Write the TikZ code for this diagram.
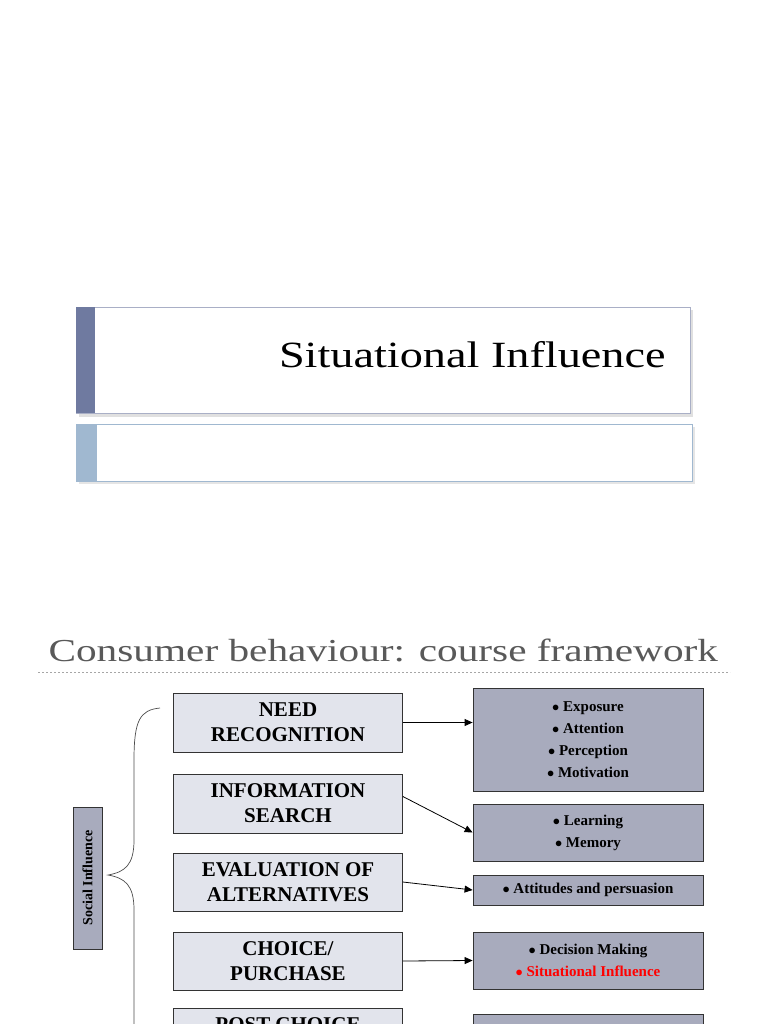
\documentclass[tikz,border=0pt]{standalone}
\usepackage{fontspec}
\setmainfont{Liberation Serif}
\usetikzlibrary{arrows.meta,decorations.pathreplacing}
\definecolor{lbox}{HTML}{E2E4EC}
\definecolor{rbox}{HTML}{A8ABBD}
\definecolor{bar1}{HTML}{6F7AA0}
\definecolor{bar2}{HTML}{A0B8D0}
\tikzset{
 lb/.style={draw=black!80,fill=lbox,line width=0.8pt,minimum width=229pt,align=center,font=\bfseries\fontsize{21}{25}\selectfont,inner sep=0pt},
 rb/.style={draw=black!80,fill=rbox,line width=0.8pt,minimum width=230pt,align=center,font=\bfseries\fontsize{15}{22}\selectfont,inner sep=0pt},
 arr/.style={-{Triangle[length=8pt,width=7pt]},line width=0.8pt,black}
}
\begin{document}
\begin{tikzpicture}[x=1pt,y=-1pt]
\useasboundingbox (0,0) rectangle (768,1024);
\clip (0,0) rectangle (768,1024);
% title slide
\fill[black!12] (79,310) rectangle (693,417);
\draw[draw=bar1!60,fill=white] (76,307) rectangle (690,413);
\fill[bar1] (76,307) rectangle (95,413);
\node[anchor=east,font=\fontsize{37}{40}\selectfont,xscale=1.25] (title) at (670,355) {Situational Influence};
\fill[black!10] (79,427) rectangle (695,484);
\draw[draw=bar2,fill=white] (76,424) rectangle (692,481);
\fill[bar2] (76,424) rectangle (97,481);
% second slide header
\node[anchor=west,font=\fontsize{32}{36}\selectfont,text=black!65,xscale=1.29] (hdr) at (44,650) {Consumer behaviour: course framework};
\draw[black!35,dashed,dash pattern=on 2pt off 2pt] (38,672) -- (730,672);
% left boxes
\node[lb,minimum height=59pt] (need) at (288,722.5) {NEED\\RECOGNITION};
\node[lb,minimum height=59pt] (info) at (288,803.5) {INFORMATION\\SEARCH};
\node[lb,minimum height=58pt] (eval) at (288,882) {EVALUATION OF\\ALTERNATIVES};
\node[lb,minimum height=58pt] (choice) at (288,961) {CHOICE/\\PURCHASE};
\node[lb,minimum height=58pt] (post) at (288,1037) {POST-CHOICE\\PROCESSES};
% right boxes
\node[rb,minimum height=103pt] (r1) at (588,739.5) {$\bullet$\ Exposure\\$\bullet$\ Attention\\$\bullet$\ Perception\\$\bullet$\ Motivation};
\node[rb,minimum height=57pt] (r2) at (588,832.5) {$\bullet$\ Learning\\$\bullet$\ Memory};
\node[rb,minimum height=30pt] (r3) at (588,890) {$\bullet$\ Attitudes and persuasion};
\node[rb,minimum height=57pt] (r4) at (588,960.5) {$\bullet$\ Decision Making\\\textcolor{red}{$\bullet$\ Situational Influence}};
\node[rb,minimum height=40pt,anchor=north] (r5) at (588,1014) {$\bullet$\ Post Purchase Satisfaction};
% arrows
\draw[arr] (need.east) -- (r1.west |- need.east);
\draw[arr] (info.east) ++(0,-7) -- (r2.west);
\draw[arr] (eval.east) -- (r3.west);
\draw[arr] (choice.east) -- (r4.west);
% social influence
\node[draw=black!80,fill=rbox,line width=0.8pt,rotate=90,minimum width=142pt,minimum height=29pt,inner sep=0pt,font=\bfseries\fontsize{14}{16}\selectfont] (soc) at (87.5,878) {Social Influence};
\draw[black!70,line width=0.7pt] (160,708) .. controls (140,710) and (134,720) .. (134,760) -- (134,840) .. controls (134,865) and (125,872) .. (108,875) .. controls (125,878) and (134,885) .. (134,910) -- (134,1024);
\end{tikzpicture}
\end{document}
